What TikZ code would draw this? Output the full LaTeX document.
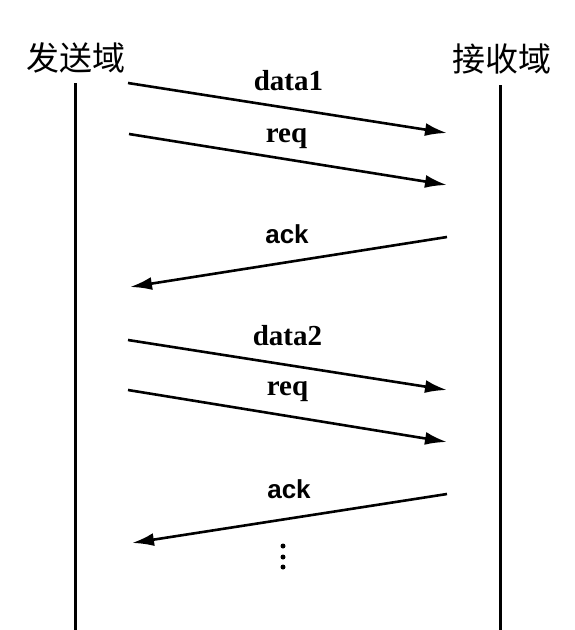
\documentclass[tikz,border=0pt]{standalone}
\usepackage{fontspec}
\setmainfont{Liberation Serif}
\newfontfamily\cjk{Noto Sans CJK SC}
\newfontfamily\arialish{Liberation Sans}
\usetikzlibrary{arrows.meta}
\tikzset{
  life/.style={line width=3pt},
  msg/.style={line width=2.6pt,-{Latex[length=22pt,width=13pt]}},
  lbl/.style={font=\fontsize{29}{32}\selectfont\bfseries, inner sep=0pt, anchor=base},
  lbls/.style={font=\arialish\fontsize{26}{30}\selectfont\bfseries, inner sep=0pt, anchor=base},
  head/.style={font=\cjk\fontsize{33}{36}\selectfont, inner sep=0pt},
  dot/.style={circle, fill=black, inner sep=0pt, minimum size=5pt}
}
\begin{document}
\begin{tikzpicture}[x=1pt,y=-1pt]
\useasboundingbox (0,0) rectangle (574,630);
\fill[white] (0,0) rectangle (574,630);
\node[head] (snd) at (76.5,58) {发送域};
\node[head] (rcv) at (502,59) {接收域};
\coordinate (Ltop) at (75,83);
\coordinate (Lbot) at (75,630);
\coordinate (Rtop) at (500,85);
\coordinate (Rbot) at (500,630);
\draw[life] (Ltop) -- (Lbot);
\draw[life] (Rtop) -- (Rbot);
% messages
\coordinate (a1) at (128,83);  \coordinate (b1) at (447,133);
\coordinate (a2) at (129,134); \coordinate (b2) at (447,185);
\coordinate (a3) at (447,237); \coordinate (b3) at (130,287);
\coordinate (a4) at (128,340); \coordinate (b4) at (447,390);
\coordinate (a5) at (128,390); \coordinate (b5) at (447,442);
\coordinate (a6) at (447,494); \coordinate (b6) at (132,543);
\draw[msg] (a1) -- (b1);
\draw[msg] (a2) -- (b2);
\draw[msg] (a3) -- (b3);
\draw[msg] (a4) -- (b4);
\draw[msg] (a5) -- (b5);
\draw[msg] (a6) -- (b6);
\node[lbl] (l1) at (288.5,90) {data1};
\node[lbl] (l2) at (286.5,142) {req};
\node[lbls] (l3) at (287,243) {ack};
\node[lbl] (l4) at (287.5,345) {data2};
\node[lbl] (l5) at (287.5,395) {req};
\node[lbls] (l6) at (289,498) {ack};
\node[dot] (d1) at (283,546) {};
\node[dot] (d2) at (283,557) {};
\node[dot] (d3) at (283,567) {};
\end{tikzpicture}
\end{document}
